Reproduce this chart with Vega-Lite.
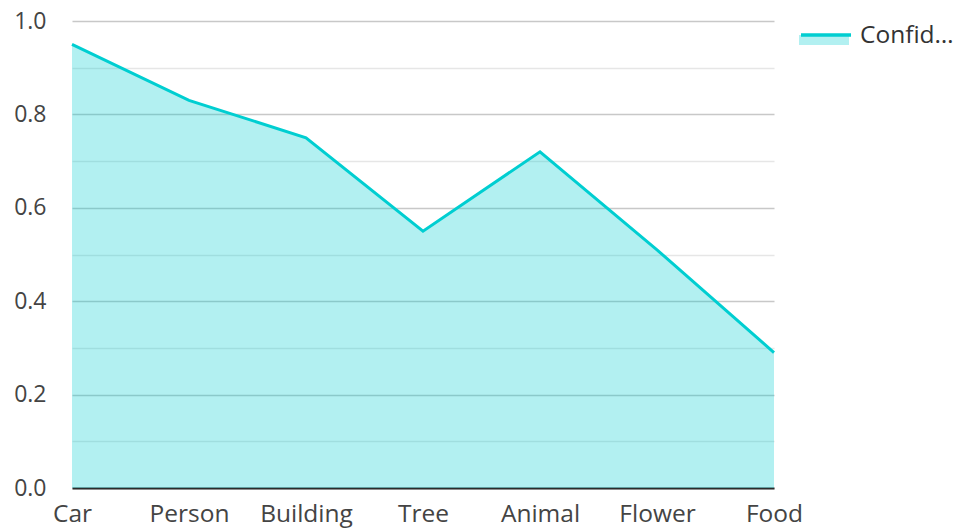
{
  "$schema": "https://vega.github.io/schema/vega-lite/v6.json",
  "width": 702,
  "height": 467,
  "autosize": {"type": "none"},
  "padding": {"left": 72, "top": 21, "right": 182, "bottom": 41},
  "background": "white",
  "config": {
    "font": "Open Sans",
    "view": {"stroke": null},
    "axis": {"labelFont": "Open Sans", "labelFontSize": 24.5, "labelColor": "#444444", "title": null}
  },
  "data": {
    "values": [
      {"label": "Car", "value": 0.95, "series": "Confidence"},
      {"label": "Person", "value": 0.83, "series": "Confidence"},
      {"label": "Building", "value": 0.75, "series": "Confidence"},
      {"label": "Tree", "value": 0.55, "series": "Confidence"},
      {"label": "Animal", "value": 0.72, "series": "Confidence"},
      {"label": "Flower", "value": 0.51, "series": "Confidence"},
      {"label": "Food", "value": 0.29, "series": "Confidence"}
    ]
  },
  "encoding": {
    "x": {
      "field": "label",
      "type": "ordinal",
      "sort": null,
      "scale": {"type": "point", "padding": 0},
      "axis": {
        "labelAngle": 0,
        "ticks": false,
        "grid": false,
        "domainColor": "#2b2b2b",
        "domainWidth": 2,
        "labelPadding": 14,
        "labelOverlap": false
      }
    },
    "y": {
      "field": "value",
      "type": "quantitative",
      "scale": {"domain": [0, 1], "nice": false, "zero": true},
      "axis": {
        "values": [0, 0.1, 0.2, 0.3, 0.4, 0.5, 0.6, 0.7, 0.8, 0.9, 1.0],
        "labelExpr": "round(datum.value * 10) % 2 == 0 ? format(datum.value, '.1f') : ''",
        "ticks": false,
        "domain": false,
        "labelPadding": 26,
        "labelFontSize": 23,
        "gridColor": {"condition": {"test": "round(datum.value * 10) % 2 == 0", "value": "#c8c8c8"}, "value": "#e6e6e6"},
        "gridWidth": 1.5
      }
    }
  },
  "layer": [
    {
      "mark": {"type": "area", "fillOpacity": 0.3, "interpolate": "linear"},
      "encoding": {
        "fill": {
          "field": "series",
          "type": "nominal",
          "scale": {"range": ["#00CED1"]},
          "legend": {
            "title": null,
            "orient": "none",
            "legendX": 727,
            "legendY": -12,
            "padding": 0,
            "symbolType": "M-1,0.04H1V0.44H-1Z",
            "symbolSize": 2500,
            "symbolOpacity": 0.3,
            "symbolStrokeWidth": 0,
            "labelFontSize": 24.5,
            "labelFont": "Open Sans",
            "labelExpr": "''",
            "labelOffset": 9
          }
        }
      }
    },
    {
      "mark": {"type": "line", "strokeWidth": 3, "interpolate": "linear"},
      "encoding": {
        "stroke": {
          "field": "series",
          "type": "nominal",
          "scale": {"range": ["#00CED1"]},
          "legend": {
            "title": null,
            "orient": "none",
            "legendX": 727,
            "legendY": -12,
            "padding": 0,
            "symbolType": "M-1,-0.04H1",
            "symbolSize": 2500,
            "symbolStrokeWidth": 3.5,
            "labelFontSize": 24.5,
            "labelFont": "Open Sans",
            "labelColor": "#333333",
            "labelOffset": 7,
            "labelLimit": 102
          }
        }
      }
    }
  ]
}
